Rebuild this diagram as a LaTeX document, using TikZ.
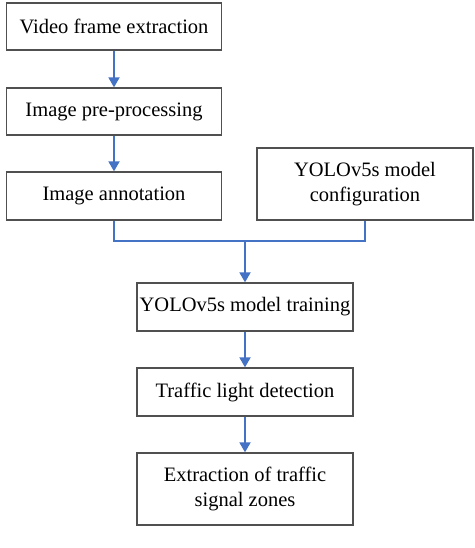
\documentclass[tikz,border=0pt]{standalone}
\usepackage{fontspec}
\setmainfont{Liberation Serif}
\usetikzlibrary{arrows.meta}
\definecolor{arrowblue}{HTML}{4472C4}
\definecolor{boxgray}{HTML}{505050}
\begin{document}
\begin{tikzpicture}[x=1pt,y=-1pt,
  stepbox/.style={draw=boxgray, line width=1.3pt, fill=white, rectangle, inner sep=0pt,
    minimum width=215pt, minimum height=47pt, align=center,
    font=\fontsize{20.5}{25}\selectfont},
  flow/.style={draw=arrowblue, line width=1.8pt},
  arr/.style={flow, -{Triangle[width=11pt,length=10pt]}}]
\useasboundingbox (0,0) rectangle (474,548);
\node[stepbox] (b1) at (114,26.5) {Video frame extraction};
\node[stepbox] (b2) at (114,111.5) {Image pre-processing};
\node[stepbox, minimum height=48pt] (b3) at (114,196) {Image annotation};
\node[stepbox, minimum width=216pt, minimum height=72pt] (b4) at (365,184) {YOLOv5s model\\configuration};
\node[stepbox, minimum width=216pt, minimum height=48pt] (b5) at (245,307) {YOLOv5s model training};
\node[stepbox, minimum width=216pt, minimum height=48pt] (b6) at (245,392) {Traffic light detection};
\node[stepbox, minimum width=216pt, minimum height=72pt] (b7) at (245,489) {Extraction of traffic\\signal zones};
\coordinate (j) at (245,241);
\draw[arr] (b1) -- (b2);
\draw[arr] (b2) -- (b3);
\draw[flow] (b3.south) |- (j);
\draw[flow] (b4.south) |- (j);
\draw[arr] (j) -- (b5.north);
\draw[arr] (b5) -- (b6);
\draw[arr] (b6) -- (b7);
\end{tikzpicture}
\end{document}
